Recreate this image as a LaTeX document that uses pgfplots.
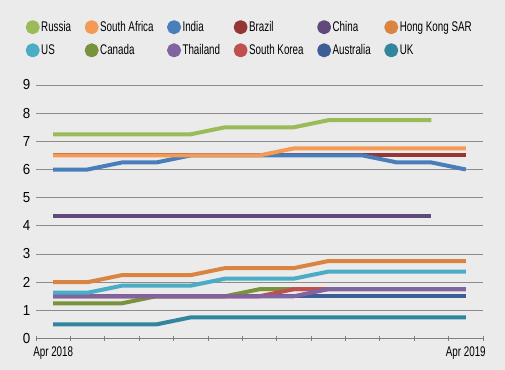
\documentclass[border=0pt]{standalone}
\usepackage{fontspec}
\setmainfont{Liberation Sans}[FakeStretch=0.7]
\newfontfamily\tickfont{Liberation Sans}[FakeStretch=0.92]
\usepackage{pgfplots}
\pgfplotsset{compat=1.18}
\definecolor{bgc}{HTML}{EBEBEB}
\definecolor{gridc}{HTML}{8C8C8C}
\definecolor{axisc}{HTML}{7F7F7F}
\definecolor{russia}{HTML}{9BBB59}
\definecolor{safrica}{HTML}{F59A55}
\definecolor{india}{HTML}{4A7EBB}
\definecolor{brazil}{HTML}{943634}
\definecolor{china}{HTML}{604A7B}
\definecolor{hk}{HTML}{DA8442}
\definecolor{us}{HTML}{4BACC6}
\definecolor{canada}{HTML}{77933C}
\definecolor{thailand}{HTML}{8064A2}
\definecolor{skorea}{HTML}{C0504D}
\definecolor{australia}{HTML}{3C5D95}
\definecolor{uk}{HTML}{31859C}
\begin{document}
\begin{tikzpicture}
\fill[bgc] (0,0) rectangle (505bp,370bp);
\begin{axis}[
  at={(36bp,31.5bp)}, anchor=south west,
  scale only axis, width=447bp, height=253.5bp,
  xmin=-0.5, xmax=12.5, ymin=0, ymax=9,
  ytick={0,1,...,9},
  ymajorgrids, grid style={gridc, line width=0.7bp},
  axis x line*=bottom, axis y line*=left,
  x axis line style={-, draw=axisc, line width=0.8bp},
  y axis line style={draw=none},
  xtick={-0.5,0.5,...,12.5}, xticklabels={},
  extra x ticks={0,12}, extra x tick labels={Apr 2018,Apr 2019},
  extra x tick style={major tick length=0pt, grid=none, tick style={draw=none}},
  xtick style={draw=axisc, line width=0.8bp},
  major tick length=5bp, tick align=center,
  ytick style={draw=none},
  /pgf/number format/assume math mode=true,
  yticklabel style={font=\tickfont\fontsize{14.5bp}{14.5bp}\selectfont, inner sep=0pt, anchor=east, xshift=-3bp},
  xticklabel style={font=\fontsize{14bp}{14bp}\selectfont, inner sep=0pt, anchor=north, yshift=-8bp},
  every axis plot/.append style={line width=4bp, line join=round},
  no markers,
  legend columns=6,
  legend cell align=left,
  legend image code/.code={\fill[#1] (5bp,0bp) circle (5bp);},
  legend style={at={(-0.023,1.257)}, anchor=north west, draw=none, fill=none,
    inner sep=0pt, outer sep=0pt, row sep=8.5bp,
    font=\fontsize{14bp}{14bp}\selectfont, nodes={inner sep=1.5bp},
    /tikz/every even column/.append style={column sep=12bp}},
]
% drawing order (bottom to top)
\addplot[uk, forget plot] coordinates {(0,0.5)(1,0.5)(2,0.5)(3,0.5)(4,0.75)(5,0.75)(6,0.75)(7,0.75)(8,0.75)(9,0.75)(10,0.75)(11,0.75)(12,0.75)};
\addplot[australia, forget plot] coordinates {(0,1.5)(1,1.5)(2,1.5)(3,1.5)(4,1.5)(5,1.5)(6,1.5)(7,1.5)(8,1.5)(9,1.5)(10,1.5)(11,1.5)(12,1.5)};
\addplot[canada, forget plot] coordinates {(0,1.25)(1,1.25)(2,1.25)(3,1.5)(4,1.5)(5,1.5)(6,1.75)(7,1.75)(8,1.75)(9,1.75)(10,1.75)(11,1.75)(12,1.75)};
\addplot[skorea, forget plot] coordinates {(0,1.5)(1,1.5)(2,1.5)(3,1.5)(4,1.5)(5,1.5)(6,1.5)(7,1.75)(8,1.75)(9,1.75)(10,1.75)(11,1.75)(12,1.75)};
\addplot[thailand, forget plot] coordinates {(0,1.5)(1,1.5)(2,1.5)(3,1.5)(4,1.5)(5,1.5)(6,1.5)(7,1.5)(8,1.75)(9,1.75)(10,1.75)(11,1.75)(12,1.75)};
\addplot[us, forget plot] coordinates {(0,1.625)(1,1.625)(2,1.875)(3,1.875)(4,1.875)(5,2.125)(6,2.125)(7,2.125)(8,2.375)(9,2.375)(10,2.375)(11,2.375)(12,2.375)};
\addplot[hk, forget plot] coordinates {(0,2)(1,2)(2,2.25)(3,2.25)(4,2.25)(5,2.5)(6,2.5)(7,2.5)(8,2.75)(9,2.75)(10,2.75)(11,2.75)(12,2.75)};
\addplot[china, forget plot] coordinates {(0,4.35)(1,4.35)(2,4.35)(3,4.35)(4,4.35)(5,4.35)(6,4.35)(7,4.35)(8,4.35)(9,4.35)(10,4.35)(11,4.35)};
\addplot[brazil, forget plot] coordinates {(0,6.5)(1,6.5)(2,6.5)(3,6.5)(4,6.5)(5,6.5)(6,6.5)(7,6.5)(8,6.5)(9,6.5)(10,6.5)(11,6.5)(12,6.5)};
\addplot[india, forget plot] coordinates {(0,6)(1,6)(2,6.25)(3,6.25)(4,6.5)(5,6.5)(6,6.5)(7,6.5)(8,6.5)(9,6.5)(10,6.25)(11,6.25)(12,6)};
\addplot[safrica, forget plot] coordinates {(0,6.5)(1,6.5)(2,6.5)(3,6.5)(4,6.5)(5,6.5)(6,6.5)(7,6.75)(8,6.75)(9,6.75)(10,6.75)(11,6.75)(12,6.75)};
\addplot[russia, forget plot] coordinates {(0,7.25)(1,7.25)(2,7.25)(3,7.25)(4,7.25)(5,7.5)(6,7.5)(7,7.5)(8,7.75)(9,7.75)(10,7.75)(11,7.75)};
% legend
\addlegendimage{russia}\addlegendentry{Russia}
\addlegendimage{safrica}\addlegendentry{South Africa}
\addlegendimage{india}\addlegendentry{India}
\addlegendimage{brazil}\addlegendentry{Brazil}
\addlegendimage{china}\addlegendentry{China}
\addlegendimage{hk}\addlegendentry{Hong Kong SAR}
\addlegendimage{us}\addlegendentry{US}
\addlegendimage{canada}\addlegendentry{Canada}
\addlegendimage{thailand}\addlegendentry{Thailand}
\addlegendimage{skorea}\addlegendentry{South Korea}
\addlegendimage{australia}\addlegendentry{Australia}
\addlegendimage{uk}\addlegendentry{UK}
\end{axis}
\pgfresetboundingbox
\useasboundingbox (0,0) rectangle (505bp,370bp);
\end{tikzpicture}
\end{document}
